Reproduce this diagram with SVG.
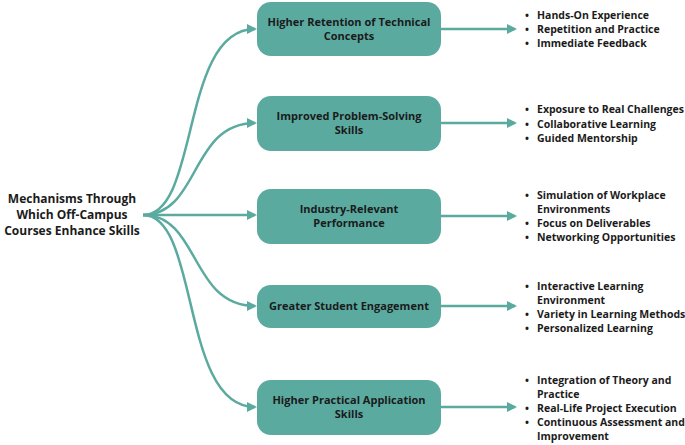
<svg xmlns="http://www.w3.org/2000/svg" width="685" height="445" viewBox="0 0 685 445">
<style>
text{font-family:"Open Sans","Liberation Sans",sans-serif;font-weight:bold;fill:#1b1b1b}
.n{fill:#5aaaa0}
.b{font-size:11px;text-anchor:middle}
.l{font-size:10.5px}
.c{fill:none;stroke:#5aaaa0;stroke-width:2.5}
</style>
<defs><marker id="a" markerWidth="10" markerHeight="10" refX="8" refY="5" orient="auto" markerUnits="userSpaceOnUse"><path d="M0,0 L10,5 L0,10 Z" fill="#5aaaa0"/></marker></defs>
<g id="root"><text font-size="12" text-anchor="middle"><tspan x="72" y="203">Mechanisms Through</tspan><tspan x="72" y="219">Which Off-Campus</tspan><tspan x="72" y="235">Courses Enhance Skills</tspan></text></g>
<g id="connectors">
<path class="c" marker-end="url(#a)" d="M143,215 C200,215 180,29 255,29"/>
<path class="c" marker-end="url(#a)" d="M143,215 C200,215 190,123 255,123"/>
<path class="c" marker-end="url(#a)" d="M143,215 L255,215"/>
<path class="c" marker-end="url(#a)" d="M143,215 C200,215 190,306 255,306"/>
<path class="c" marker-end="url(#a)" d="M143,215 C200,215 180,407 255,407"/>
<path class="c" marker-end="url(#a)" d="M441,29 L515,29"/>
<path class="c" marker-end="url(#a)" d="M441,123 L515,123"/>
<path class="c" marker-end="url(#a)" d="M441,216 L515,216"/>
<path class="c" marker-end="url(#a)" d="M441,306 L515,306"/>
<path class="c" marker-end="url(#a)" d="M441,407 L515,407"/>
</g>
<g id="n1"><rect class="n" x="257" y="2" width="184" height="54" rx="14"/><text class="b"><tspan x="349" y="26">Higher Retention of Technical</tspan><tspan x="349" y="40">Concepts</tspan></text></g>
<g id="n2"><rect class="n" x="257" y="96" width="184" height="55" rx="14"/><text class="b"><tspan x="349" y="120">Improved Problem-Solving</tspan><tspan x="349" y="134">Skills</tspan></text></g>
<g id="n3"><rect class="n" x="257" y="189" width="184" height="55" rx="14"/><text class="b"><tspan x="349" y="213">Industry-Relevant</tspan><tspan x="349" y="227">Performance</tspan></text></g>
<g id="n4"><rect class="n" x="257" y="285" width="184" height="43" rx="14"/><text class="b" x="349" y="310">Greater Student Engagement</text></g>
<g id="n5"><rect class="n" x="257" y="380" width="184" height="55" rx="14"/><text class="b"><tspan x="349" y="404">Higher Practical Application</tspan><tspan x="349" y="418">Skills</tspan></text></g>
<g id="l1"><text class="l"><tspan x="525" y="19">•</tspan><tspan x="537">Hands-On Experience</tspan><tspan x="525" y="33">•</tspan><tspan x="537">Repetition and Practice</tspan><tspan x="525" y="47">•</tspan><tspan x="537">Immediate Feedback</tspan></text></g>
<g id="l2"><text class="l"><tspan x="525" y="113">•</tspan><tspan x="537">Exposure to Real Challenges</tspan><tspan x="525" y="128">•</tspan><tspan x="537">Collaborative Learning</tspan><tspan x="525" y="142">•</tspan><tspan x="537">Guided Mentorship</tspan></text></g>
<g id="l3"><text class="l"><tspan x="525" y="199">•</tspan><tspan x="537">Simulation of Workplace</tspan><tspan x="537" y="213">Environments</tspan><tspan x="525" y="227">•</tspan><tspan x="537">Focus on Deliverables</tspan><tspan x="525" y="241">•</tspan><tspan x="537">Networking Opportunities</tspan></text></g>
<g id="l4"><text class="l"><tspan x="525" y="290">•</tspan><tspan x="537">Interactive Learning</tspan><tspan x="537" y="304">Environment</tspan><tspan x="525" y="318">•</tspan><tspan x="537">Variety in Learning Methods</tspan><tspan x="525" y="332">•</tspan><tspan x="537">Personalized Learning</tspan></text></g>
<g id="l5"><text class="l"><tspan x="525" y="384">•</tspan><tspan x="537">Integration of Theory and</tspan><tspan x="537" y="398">Practice</tspan><tspan x="525" y="412">•</tspan><tspan x="537">Real-Life Project Execution</tspan><tspan x="525" y="426">•</tspan><tspan x="537">Continuous Assessment and</tspan><tspan x="537" y="440">Improvement</tspan></text></g>
</svg>
